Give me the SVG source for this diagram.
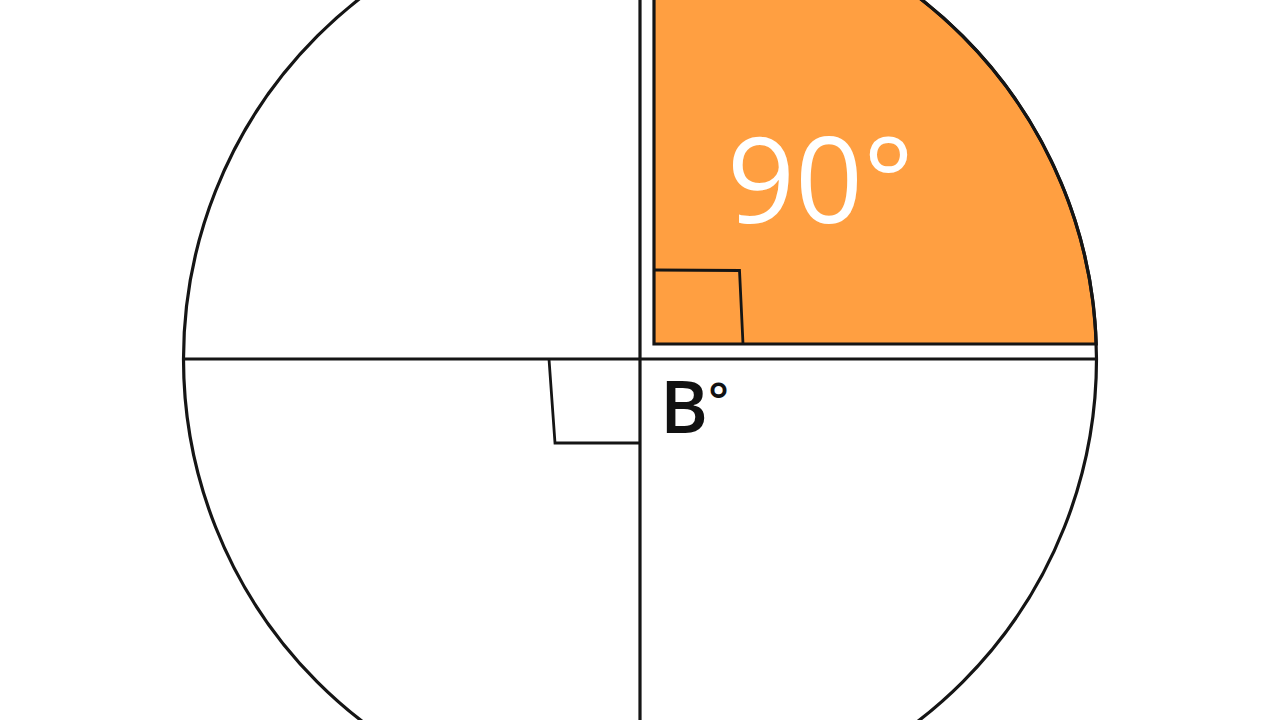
<svg xmlns="http://www.w3.org/2000/svg" width="1280" height="720" viewBox="0 0 1280 720">
  <style>
    .ln { fill: none; stroke: #151515; stroke-width: 3.2; stroke-linejoin: miter; }
    .thin { fill: none; stroke: #151515; stroke-width: 2.8; }
  </style>
  <rect width="1280" height="720" fill="#ffffff"/>
  <g id="orange-quadrant">
    <path d="M654,344 L1096.25,344 A456.5,456.5 0 0 0 654,-97.3 Z" fill="#FF9F41" stroke="#151515" stroke-width="3.2"/>
    <path class="thin" d="M654.5,270 L739.5,270.5 L743,344"/>
    <text x="727" y="223" font-family="'Open Sans', 'Noto Sans', sans-serif" font-size="119" fill="#ffffff">90°</text>
  </g>
  <g id="circle">
    <circle cx="640" cy="359" r="456.5" class="ln"/>
    <line x1="640" y1="-100" x2="640" y2="820" class="ln"/>
    <line x1="183" y1="359" x2="1097" y2="359" class="ln"/>
  </g>
  <g id="angle-B">
    <path class="thin" d="M549,359 L555,443 L640,443"/>
    <text x="660" y="433" font-family="'Open Sans', 'Noto Sans', sans-serif" font-size="73" font-weight="600" fill="#111111">B<tspan font-size="48" dy="-15">°</tspan></text>
  </g>
</svg>
